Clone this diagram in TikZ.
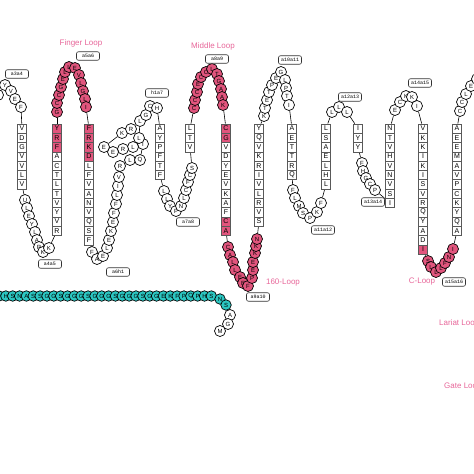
\documentclass[tikz,border=0pt]{standalone}
\usepackage{fontspec}
\setmainfont{Liberation Sans}
\setmonofont{Liberation Mono}
\pgfdeclarelayer{bg}
\pgfsetlayers{bg,main}
\definecolor{pk}{HTML}{E1557D}
\definecolor{pkt}{HTML}{E8679A}
\definecolor{cy}{HTML}{2BC7C2}
\tikzset{
 res/.style={circle,draw=black,line width=0.7pt,fill=white,minimum size=11pt,inner sep=0pt,font=\fontsize{6}{6}\selectfont},
 pres/.style={res,fill=pk},
 cres/.style={res,fill=cy,minimum size=10.5pt},
 hb/.style={rectangle,draw=black!65,line width=0.5pt,fill=white,minimum width=9pt,minimum height=9.3pt,inner sep=0pt,font=\fontsize{7}{7}\selectfont},
 phb/.style={hb,fill=pk},
 lab/.style={rectangle,rounded corners=2pt,draw=black!80,line width=0.6pt,fill=white,minimum width=23pt,minimum height=8.5pt,inner sep=1pt,font=\ttfamily\fontsize{5}{5}\selectfont},
 ltitle/.style={text=pkt,font=\fontsize{8}{8}\selectfont,inner sep=0pt},
 cn/.style={draw=black,line width=0.6pt},
}
\newcommand\hlx[3]{\foreach \LL/\cc [count=\ii] in {#3} {\node[\cc] (#1-\ii) at (#2,{128.5+9.3*(\ii-1)}) {\LL};}}
\newcommand\chn[3]{\foreach \LL/\px/\py [count=\ii] in {#3} {\node[#2] (#1-\ii) at (\px,\py) {\LL};}}
\newcommand\lnk[2]{\begin{pgfonlayer}{bg}\foreach \ii in {2,...,#2} {\pgfmathtruncatemacro\jj{\ii-1}\draw[cn] (#1-\jj) -- (#1-\ii);}\end{pgfonlayer}}
\newcommand\con[2]{\begin{pgfonlayer}{bg}\draw[cn] (#1) -- (#2);\end{pgfonlayer}}
\begin{document}
\begin{tikzpicture}[x=1pt,y=-1pt]
\useasboundingbox (0,0) rectangle (474,474);
\begin{pgfonlayer}{bg}\fill[white] (0,0) rectangle (474,474);\end{pgfonlayer}
% helices
\hlx{ha}{22}{V/hb,D/hb,G/hb,V/hb,V/hb,L/hb,V/hb}
\hlx{hb}{57}{Y/phb,R/phb,F/phb,A/hb,C/hb,T/hb,L/hb,T/hb,V/hb,Y/hb,V/hb,R/hb}
\hlx{hc}{89}{F/phb,R/phb,K/phb,D/phb,L/hb,F/hb,V/hb,A/hb,N/hb,V/hb,Q/hb,S/hb,F/hb}
\hlx{hd}{160}{A/hb,Y/hb,P/hb,F/hb,T/hb,F/hb}
\hlx{he}{190}{L/hb,T/hb,V/hb}
\hlx{hf}{226}{C/phb,G/phb,V/hb,D/hb,Y/hb,E/hb,V/hb,K/hb,A/hb,F/hb,C/phb,A/phb}
\hlx{hg}{259}{Y/hb,Q/hb,V/hb,K/hb,R/hb,I/hb,V/hb,L/hb,R/hb,V/hb,S/hb}
\hlx{hh}{292}{A/hb,E/hb,T/hb,T/hb,R/hb,Q/hb}
\hlx{hi}{326}{L/hb,S/hb,A/hb,E/hb,L/hb,H/hb,L/hb}
\hlx{hj}{358}{I/hb,Y/hb,Y/hb}
\hlx{hk}{390}{N/hb,T/hb,V/hb,H/hb,V/hb,N/hb,V/hb,S/hb,I/hb}
\hlx{hl}{423}{V/hb,K/hb,K/hb,I/hb,K/hb,I/hb,S/hb,V/hb,R/hb,Q/hb,Y/hb,A/hb,D/hb,I/phb}
\hlx{hm}{457}{A/hb,E/hb,E/hb,M/hb,A/hb,V/hb,P/hb,C/hb,K/hb,Y/hb,Q/hb,A/hb}
% loops
\chn{ac}{res}{/-2/95,Y/5/85,V/11/91,E/15/99,F/21/107}
\chn{aa}{res}{U/25/200,L/27/208,E/29/216,Y/32/224,L/35/232,A/37/240,R/39/247,K/43/252,K/49/248}
\chn{fl}{pres}{G/57/112,C/57/103,C/59/95,G/61/87,E/63/79,L/65/72,L/69/67,E/75/68,V/79/75,L/81/83,G/83/91,L/85/99,I/86/107}
\chn{ab}{res}{F/92/252,A/97/259,E/103/256,L/107/248,E/109/240,K/111/231,E/113/222,F/114/213,F/116/204,L/117/195,I/118/186,V/119/177}
\chn{hx}{res}{R/120/166,L/130/160,Q/140/160,I/143/144,L/133/147,R/123/149,E/113/152,E/104/147,K/122/133,R/131/129,L/139/138,L/140/121,G/146/115,C/150/106,H/157/108}
\chn{sv}{res}{L/164/191,L/167/199,Y/170/206,P/176/211,N/181/206,L/184/198,C/186/190,F/188/182,C/190/175,S/192/168}
\chn{ml}{pres}{C/194/108,C/195/100,C/197/92,E/198/84,C/201/77,C/206/72,L/212/69,T/217/74,G/219/81,A/221/89,A/222/97,K/223/105}
\chn{ls}{pres}{C/228/247,A/230/255,L/233/262,L/235/270,E/240/277,E/243/283,F/248/286,P/252/278,E/253/270,E/253/262,K/255/253,K/256/246,N/257/239}
\chn{lt}{res}{K/264/116,T/265/108,E/267/100,T/269/92,P/272/85,E/276/78,G/281/72,L/285/80,P/286/88,T/287/96,I/289/105}
\chn{le}{res}{F/293/190,L/295/198,M/299/206,S/303/213,P/310/218,K/317/212,F/321/203}
\chn{lw}{res}{L/332/112,L/339/107,L/347/112}
\chn{lf}{res}{F/362/163,H/363/171,G/366/178,C/370/184,P/375/190}
\chn{lg}{res}{E/395/110,C/400/102,K/406/96,K/412/97,I/417/106}
\chn{cl}{pres}{S/428/261,L/431/267,L/436/272,L/441/268,F/445/263,N/449/257,I/453/249}
\chn{tr}{res}{C/460/111,C/462/102,L/466/94,E/471/86,K/477/79}
% N-terminal
\foreach \LL [count=\ii] in {P,H,S,N,A,S,S,G,G,S,G,G,G,S,G,G,G,S,G,G,G,S,G,G,E,K,F,P,Q,P,H,S}
  {\node[cres] (cy-\ii) at ({-1+6.85*(\ii-1)},296) {\LL};}
\node[cres] (cy-33) at (220,299) {N};
\node[cres] (cy-34) at (226,305) {S};
\chn{nt}{res}{A/230/315,G/228/324,M/220/331}
% links
\lnk{ac}{5}\lnk{aa}{9}\lnk{fl}{13}\lnk{ab}{12}\lnk{hx}{15}\lnk{sv}{10}\lnk{ml}{12}\lnk{ls}{13}
\lnk{lt}{11}\lnk{le}{7}\lnk{lw}{3}\lnk{lf}{5}\lnk{lg}{5}\lnk{cl}{7}\lnk{tr}{5}\lnk{cy}{34}\lnk{nt}{3}
\con{ac-5}{ha-1}\con{ha-7}{aa-1}\con{aa-9}{hb-12}\con{hb-1}{fl-1}\con{fl-13}{hc-1}
\con{hc-13}{ab-1}\con{ab-12}{hx-1}\con{hx-15}{hd-1}\con{hd-6}{sv-1}\con{sv-10}{he-3}
\con{he-1}{ml-1}\con{ml-12}{hf-1}\con{hf-12}{ls-1}\con{ls-13}{hg-11}\con{hg-1}{lt-1}
\con{lt-11}{hh-1}\con{hh-6}{le-1}\con{le-7}{hi-7}\con{hi-1}{lw-1}\con{lw-3}{hj-1}
\con{hj-3}{lf-1}\con{lf-5}{hk-9}\con{hk-1}{lg-1}\con{lg-5}{hl-1}\con{hl-14}{cl-1}
\con{cl-7}{hm-12}\con{hm-1}{tr-1}\con{cy-34}{nt-1}
% labels
\node[lab] (l34) at (17,74) {a3a4};
\node[lab] (l56) at (88,56) {a5a6};
\node[lab] (lh7) at (157,93) {h1a7};
\node[lab] (l89) at (217,59) {a8a9};
\node[lab] (l1011) at (290,60) {a10a11};
\node[lab] (l1213) at (350,97) {a12a13};
\node[lab] (l1415) at (420,83) {a14a15};
\node[lab] (l45) at (50,264) {a4a5};
\node[lab] (l6h) at (118,272) {a6h1};
\node[lab] (l78) at (188,222) {a7a8};
\node[lab] (l910) at (258,297) {a9a10};
\node[lab] (l1112) at (323,230) {a11a12};
\node[lab] (l1314) at (373,202) {a13a14};
\node[lab] (l1516) at (454,282) {a15a16};
% loop titles
\node[ltitle] (tf) at (81,43) {Finger Loop};
\node[ltitle] (tm) at (213,46) {Middle Loop};
\node[ltitle] (t160) at (283,283) {160-Loop};
\node[ltitle] (tc) at (422,282) {C-Loop};
\node[ltitle,anchor=west] (tl) at (439,323) {Lariat Loop};
\node[ltitle,anchor=west] (tg) at (444,387) {Gate Loop};
\end{tikzpicture}
\end{document}
